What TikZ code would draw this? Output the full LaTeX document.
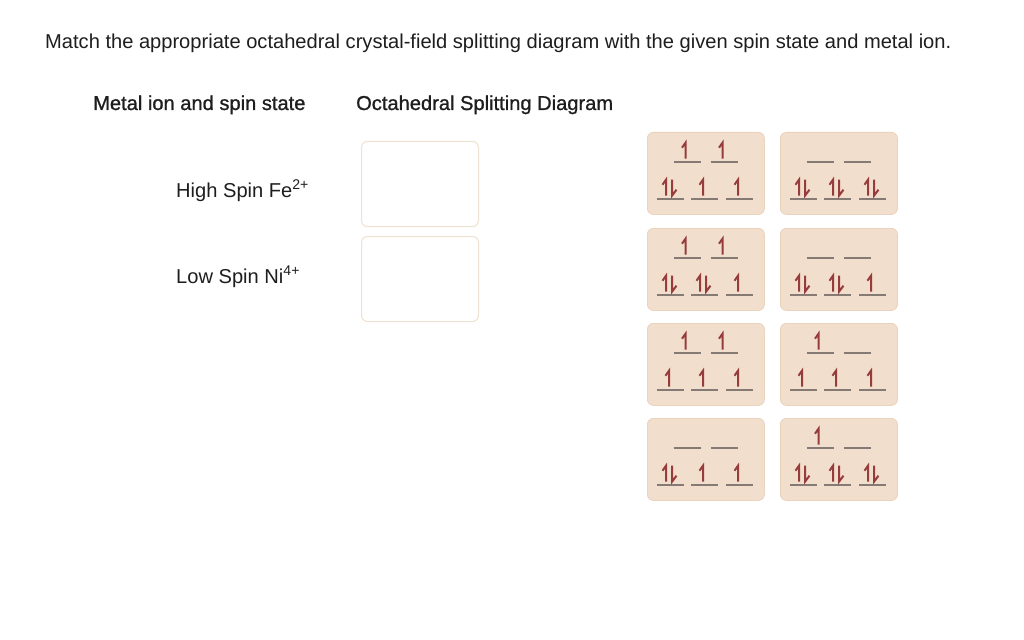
\documentclass[tikz,border=0pt]{standalone}
\usepackage{fontspec}
\setmainfont{Liberation Sans}
\newfontfamily\headfont[FakeBold=1]{Liberation Sans}
\definecolor{cardfill}{HTML}{F2DECC}
\definecolor{cardedge}{HTML}{EAD2BD}
\definecolor{boxedge}{HTML}{F0E2D2}
\definecolor{arrowc}{HTML}{963C3C}
\definecolor{linec}{HTML}{867A74}
\definecolor{txt}{HTML}{1E1E1E}
\tikzset{
  card/.style={draw=cardedge, line width=0.8pt, fill=cardfill, rounded corners=6pt, minimum width=117pt, minimum height=82pt, inner sep=0pt},
  dropbox/.style={draw=boxedge, line width=1pt, fill=white, rounded corners=6pt, minimum width=117pt, minimum height=85pt, inner sep=0pt},
  orbline/.style={draw=linec, line width=1.7pt},
  harp/.style={draw=arrowc, line width=2pt, line join=miter},
  titletext/.style={text=txt, inner sep=0pt, font=\fontsize{20.1}{24}\selectfont},
  headtext/.style={text=txt, inner sep=0pt, font=\fontsize{20.1}{24}\headfont},
  labeltext/.style={text=txt, inner sep=0pt, font=\fontsize{20.1}{24}\selectfont},
}
% orbital: centre x, line y, number of electrons
\newcommand\orbital[3]{%
  \draw[orbline] (#1-13.5,#2) -- (#1+13.5,#2);
  \ifcase#3\relax
  \or
    \draw[harp] (#1-1.5,#2-3.3) -- ++(0,-16) -- ++(-3.5,5);
  \or
    \draw[harp] (#1-4.5,#2-3.3) -- ++(0,-16) -- ++(-3.5,5);
    \draw[harp] (#1+1.5,#2-19.3) -- ++(0,16) -- ++(4.5,-6);
  \fi}
% card: name, left x, top y, t1 t2, b1 b2 b3
\newcommand\splitcard[8]{%
  \node[card, anchor=north west] (#1) at (#2,#3) {};
  \orbital{#2+58.5-18.5}{#3+30}{#4}
  \orbital{#2+58.5+18.5}{#3+30}{#5}
  \orbital{#2+58.5-35}{#3+67}{#6}
  \orbital{#2+58.5-1}{#3+67}{#7}
  \orbital{#2+58.5+34}{#3+67}{#8}}
\begin{document}
\begin{tikzpicture}[x=1pt,y=-1pt]
\useasboundingbox (0,0) rectangle (1024,639);
\fill[white] (0,0) rectangle (1024,639);
\node[titletext, anchor=base west] (title) at (45,49) {Match the appropriate octahedral crystal-field splitting diagram with the given spin state and metal ion.};
\node[headtext, anchor=base west] (h1) at (93,110) {Metal ion and spin state};
\node[headtext, anchor=base west] (h2) at (356,110) {Octahedral Splitting Diagram};
\node[labeltext, anchor=base west] (l1) at (176,197) {High Spin Fe\textsuperscript{2+}};
\node[labeltext, anchor=base west] (l2) at (176,283) {Low Spin Ni\textsuperscript{4+}};
\node[dropbox, anchor=north west] (d1) at (361,141) {};
\node[dropbox, anchor=north west] (d2) at (361,236) {};
\splitcard{c11}{647}{132}{1}{1}{2}{1}{1}
\splitcard{c12}{780}{132}{0}{0}{2}{2}{2}
\splitcard{c21}{647}{228}{1}{1}{2}{2}{1}
\splitcard{c22}{780}{228}{0}{0}{2}{2}{1}
\splitcard{c31}{647}{323}{1}{1}{1}{1}{1}
\splitcard{c32}{780}{323}{1}{0}{1}{1}{1}
\splitcard{c41}{647}{418}{0}{0}{2}{1}{1}
\splitcard{c42}{780}{418}{1}{0}{2}{2}{2}
\end{tikzpicture}
\end{document}
